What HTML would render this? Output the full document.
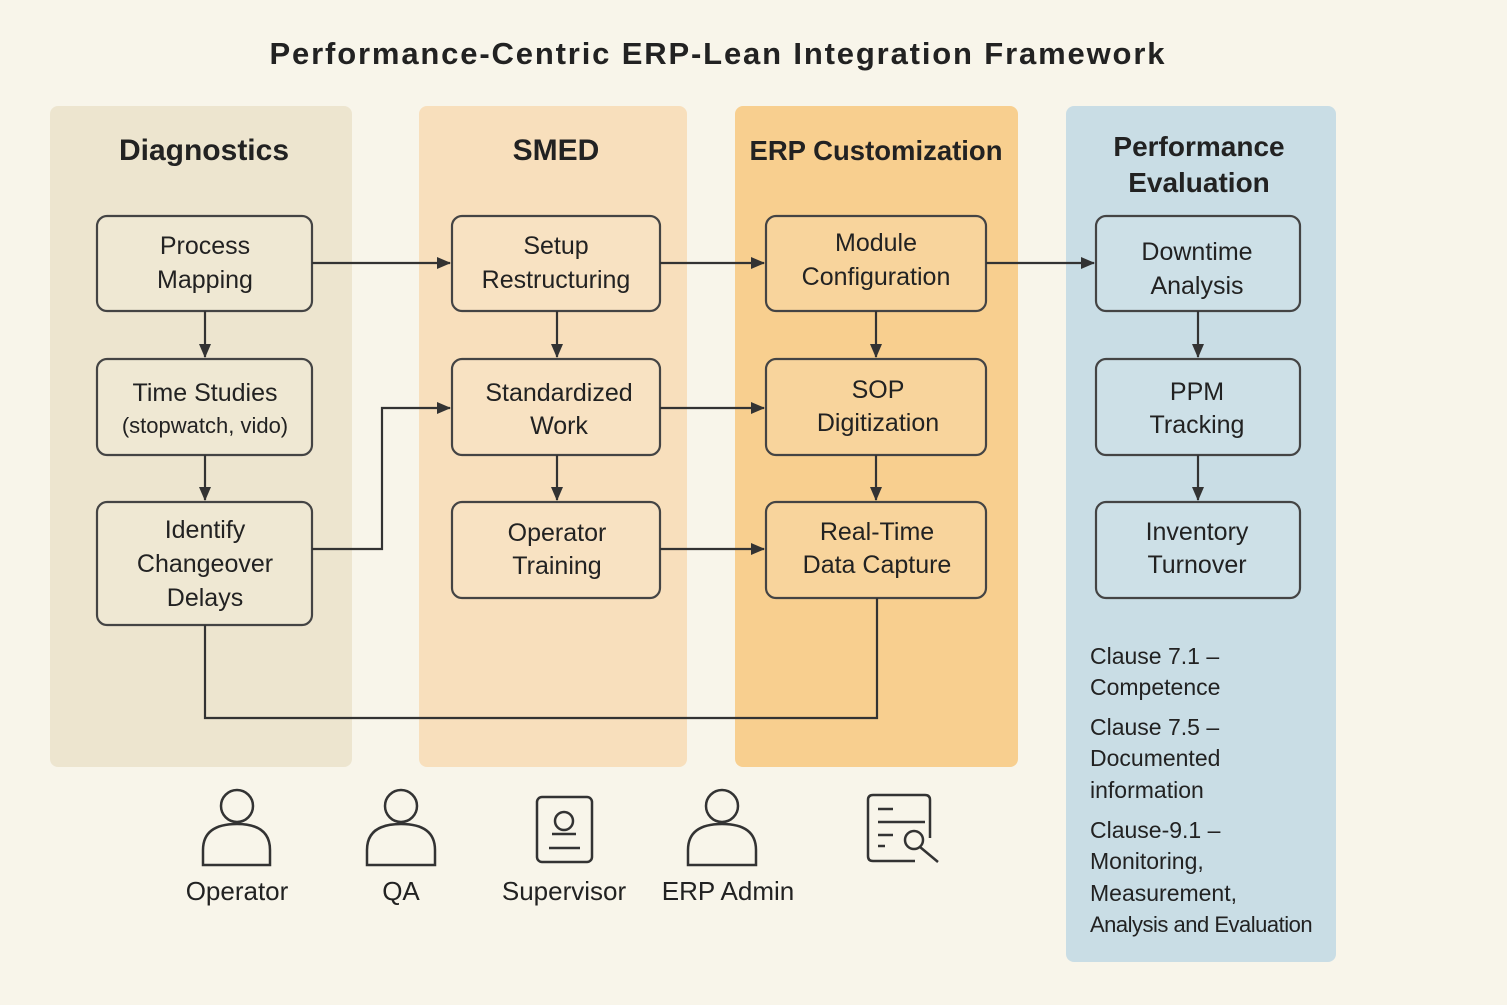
<!DOCTYPE html>
<html><head><meta charset="utf-8"><style>
html,body{margin:0;padding:0;background:#f8f5ea;}
svg{display:block;font-family:"Liberation Sans",sans-serif;}
</style></head><body>
<svg width="1507" height="1005" viewBox="0 0 1507 1005">
<defs><marker id="a" markerWidth="14" markerHeight="12" refX="13" refY="6" orient="auto" markerUnits="userSpaceOnUse"><path d="M0,0 L14,6 L0,12 z" fill="#333"/></marker></defs>
<rect width="1507" height="1005" fill="#f8f5ea"/>
<text x="717" y="64" text-anchor="middle" font-size="31" font-weight="bold" fill="#222" textLength="895" lengthAdjust="spacing">Performance-Centric ERP-Lean Integration Framework</text>
<rect x="50" y="106" width="302" height="661" rx="8" fill="#ede5cf"/>
<rect x="419" y="106" width="268" height="661" rx="8" fill="#f8dfbc"/>
<rect x="735" y="106" width="283" height="661" rx="8" fill="#f8cf8f"/>
<rect x="1066" y="106" width="270" height="856" rx="8" fill="#c9dde5"/>
<g font-size="30" font-weight="bold" fill="#222" text-anchor="middle">
<text x="204" y="160">Diagnostics</text>
<text x="556" y="160">SMED</text>
<text x="876" y="160" font-size="28" textLength="253" lengthAdjust="spacingAndGlyphs">ERP Customization</text>
<text x="1199" y="156" font-size="28">Performance</text>
<text x="1199" y="192" font-size="28">Evaluation</text>
</g>
<g stroke="#444" stroke-width="2.2">
<rect x="97" y="216" width="215" height="95" rx="10" fill="#efe8d3"/>
<rect x="97" y="359" width="215" height="96" rx="10" fill="#efe8d3"/>
<rect x="97" y="502" width="215" height="123" rx="10" fill="#efe8d3"/>
<rect x="452" y="216" width="208" height="95" rx="10" fill="#f8e2c2"/>
<rect x="452" y="359" width="208" height="96" rx="10" fill="#f8e2c2"/>
<rect x="452" y="502" width="208" height="96" rx="10" fill="#f8e2c2"/>
<rect x="766" y="216" width="220" height="95" rx="10" fill="#f8d49c"/>
<rect x="766" y="359" width="220" height="96" rx="10" fill="#f8d49c"/>
<rect x="766" y="502" width="220" height="96" rx="10" fill="#f8d49c"/>
<rect x="1096" y="216" width="204" height="95" rx="10" fill="#cde0e7"/>
<rect x="1096" y="359" width="204" height="96" rx="10" fill="#cde0e7"/>
<rect x="1096" y="502" width="204" height="96" rx="10" fill="#cde0e7"/>
</g>
<g font-size="25" fill="#222" text-anchor="middle">
<text x="205" y="254">Process</text><text x="205" y="288">Mapping</text>
<text x="205" y="401">Time Studies</text><text x="205" y="433" font-size="22">(stopwatch, vido)</text>
<text x="205" y="538">Identify</text><text x="205" y="572">Changeover</text><text x="205" y="606">Delays</text>
<text x="556" y="254">Setup</text><text x="556" y="288">Restructuring</text>
<text x="559" y="401">Standardized</text><text x="559" y="434">Work</text>
<text x="557" y="541">Operator</text><text x="557" y="574">Training</text>
<text x="876" y="251">Module</text><text x="876" y="285">Configuration</text>
<text x="878" y="398">SOP</text><text x="878" y="431">Digitization</text>
<text x="877" y="540">Real-Time</text><text x="877" y="573">Data Capture</text>
<text x="1197" y="260">Downtime</text><text x="1197" y="294">Analysis</text>
<text x="1197" y="400">PPM</text><text x="1197" y="433">Tracking</text>
<text x="1197" y="540">Inventory</text><text x="1197" y="573">Turnover</text>
</g>
<g stroke="#333" stroke-width="2.2" fill="none">
<path d="M312,263 H450" marker-end="url(#a)"/>
<path d="M660,263 H764" marker-end="url(#a)"/>
<path d="M986,263 H1094" marker-end="url(#a)"/>
<path d="M205,311 V357" marker-end="url(#a)"/>
<path d="M205,455 V500" marker-end="url(#a)"/>
<path d="M557,311 V357" marker-end="url(#a)"/>
<path d="M557,455 V500" marker-end="url(#a)"/>
<path d="M876,311 V357" marker-end="url(#a)"/>
<path d="M876,455 V500" marker-end="url(#a)"/>
<path d="M1198,311 V357" marker-end="url(#a)"/>
<path d="M1198,455 V500" marker-end="url(#a)"/>
<path d="M312,549 H382 V408 H450" marker-end="url(#a)"/>
<path d="M660,408 H764" marker-end="url(#a)"/>
<path d="M660,549 H764" marker-end="url(#a)"/>
<path d="M877,598 V718 H205 V625"/>
</g>
<g font-size="23" fill="#222">
<text x="1090" y="664">Clause 7.1 –</text><text x="1090" y="695">Competence</text>
<text x="1090" y="735">Clause 7.5 –</text><text x="1090" y="766">Documented</text><text x="1090" y="798">information</text>
<text x="1090" y="838">Clause-9.1 –</text><text x="1090" y="869">Monitoring,</text><text x="1090" y="901">Measurement,</text>
<text x="1090" y="932" font-size="22" letter-spacing="-0.5">Analysis and Evaluation</text>
</g>
<g stroke="#333" stroke-width="2.5" fill="none">
<circle cx="237" cy="806" r="16"/><path d="M203,865 V850 Q203,824 237,824 Q270,824 270,850 V865 Z"/>
<circle cx="401" cy="806" r="16"/><path d="M367,865 V850 Q367,824 401,824 Q435,824 435,850 V865 Z"/>
<circle cx="722" cy="806" r="16"/><path d="M688,865 V850 Q688,824 722,824 Q756,824 756,850 V865 Z"/>
<rect x="537" y="797" width="55" height="65" rx="5"/>
<circle cx="564" cy="821" r="9"/><path d="M552,834 H576 M549,848 H580"/>
<path d="M930,838 V800 Q930,795 925,795 H873 Q868,795 868,800 V856 Q868,861 873,861 H915"/>
<path d="M878,809 H893 M878,822 H925 M878,835 H893 M878,846 H885"/>
<circle cx="914" cy="840" r="9"/><path d="M920,847 L938,862"/>
</g>
<g font-size="26" fill="#222" text-anchor="middle">
<text x="237" y="900">Operator</text><text x="401" y="900">QA</text>
<text x="564" y="900">Supervisor</text><text x="728" y="900">ERP Admin</text>
</g>
</svg>
</body></html>
